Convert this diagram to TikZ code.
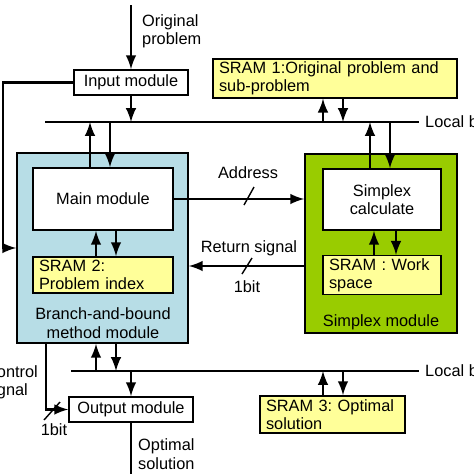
\documentclass[tikz,border=0pt]{standalone}
\usepackage{fontspec}
\setmainfont{Liberation Sans}
\usetikzlibrary{arrows,calc}
\tikzset{>=latex}
\definecolor{bnbblue}{RGB}{183,221,230}
\definecolor{simgreen}{RGB}{153,204,0}
\definecolor{sramyellow}{RGB}{255,255,153}
\tikzstyle{unit}=[rectangle,draw=black,line width=0.9pt]
\tikzstyle{module}=[rectangle,draw=black,fill=white,line width=0.9pt,inner sep=0.5mm]
\tikzstyle{sram}=[rectangle,draw=black,fill=sramyellow,line width=0.9pt,align=left,inner xsep=0.12cm,inner ysep=0.5mm,execute at begin node={\hyphenpenalty=10000}]
\tikzstyle{bus}=[line width=0.8pt]
\tikzstyle{sig}=[->,line width=1.7pt]
\tikzstyle{bitmark}=[line width=0.8pt]

\begin{document}
\frenchspacing
\begin{tikzpicture}[x=0.02cm,y=-0.02cm,font=\fontsize{9.3}{10.5}\selectfont]
	\useasboundingbox (0,0) rectangle (474,474);
	\clip (0,0) rectangle (474,474);
	
	% the two big units
	\node[unit,fill=bnbblue,minimum width=3.42cm,minimum height=3.8cm] (bnb) at (102.5,248) {};
	\node[unit,fill=simgreen,minimum width=3.04cm,minimum height=3.58cm] (simplex) at (381,243.5) {};
	
	\node[module,minimum width=2.28cm,minimum height=0.5cm] (input) at (131,82.5) {Input module};
	\node[module,minimum width=2.8cm,minimum height=1.24cm] (main) at (103,199) {Main module};
	\node[module,minimum width=2.36cm,minimum height=1.22cm,align=center] (calc) at (382,199.5) {Simplex\\calculate};
	\node[module,minimum width=2.48cm,minimum height=0.5cm] (output) at (131,409.5) {Output module};
	
	\node[sram,text width=4.64cm,minimum height=0.7cm] (sram1) at (335,78.5) {SRAM 1:Original problem and\\sub-problem};
	\node[sram,text width=2.56cm,minimum height=0.72cm] (sram2) at (103,275) {SRAM 2:\\Problem index};
	\node[sram,text width=2.12cm,minimum height=0.72cm] (work) at (382,275) {SRAM : Work\\space};
	\node[sram,text width=2.66cm,minimum height=0.74cm] (sram3) at (332.5,414.5) {SRAM 3: Optimal\\solution};
	
	\node[align=center] (bnblab) at (103,323) {Branch-and-bound\\method module};
	\node (simlab) at (381,322) {Simplex module};
	\node[anchor=west,align=left] (origlab) at (136,31) {Original\\problem};
	\node[anchor=west,align=left] (optlab) at (132,454) {Optimal\\solution};
	\node[anchor=east,align=left] (ctrllab) at (44,382) {Control\\signal};
	\node (addrlab) at (248,173) {Address};
	\node (retlab) at (249,248) {Return signal};
	\node (bitlab1) at (247,287) {1bit};
	\node (bitlab2) at (54,430) {1bit};
	
	% local buses
	\node[anchor=west] (buslab1) at (419,122) {Local bus};
	\node[anchor=west] (buslab2) at (419,371) {Local bus};
	\coordinate (bus1w) at (45,122);
	\coordinate (bus2w) at (71,371);
	\draw[bus] (bus1w) -- (buslab1.west);
	\draw[bus] (bus2w) -- (buslab2.west);
	
	\coordinate (orig) at (131,5);
	\coordinate (sol) at (131,480);
	\coordinate (lft) at (3,200);
	\coordinate (ret) at (0,266);
	
	\draw[sig] (orig) -- (input);
	\draw[sig] (input.west) -| (lft) |- (bnb.west);
	\draw[sig] (input.south) -- (input.south |- bus1w);
	
	\draw[sig] ([xshift=-12*0.02cm]sram1.south |- bus1w) -- ([xshift=-12*0.02cm]sram1.south);
	\draw[sig] ([xshift=8*0.02cm]sram1.south) -- ([xshift=8*0.02cm]sram1.south |- bus1w);
	\draw[sig] ([xshift=-13*0.02cm]main.north) -- ([xshift=-13*0.02cm]main.north |- bus1w);
	\draw[sig] ([xshift=7*0.02cm]main.north |- bus1w) -- ([xshift=7*0.02cm]main.north);
	\draw[sig] ([xshift=-12*0.02cm]calc.north) -- ([xshift=-12*0.02cm]calc.north |- bus1w);
	\draw[sig] ([xshift=8*0.02cm]calc.north |- bus1w) -- ([xshift=8*0.02cm]calc.north);
	
	\draw[sig] ([xshift=-7*0.02cm]sram2.north) -- ([xshift=-7*0.02cm]main.south);
	\draw[sig] ([xshift=13*0.02cm]main.south) -- ([xshift=13*0.02cm]sram2.north);
	\draw[sig] ([xshift=-8*0.02cm]work.north) -- ([xshift=-8*0.02cm]calc.south);
	\draw[sig] ([xshift=14*0.02cm]calc.south) -- ([xshift=14*0.02cm]work.north);
	
	\draw[sig] (main.east) -- (main.east -| simplex.west);
	\draw[sig] (simplex.west |- ret) -- (bnb.east |- ret);
	
	\draw[sig] ([xshift=-6.5*0.02cm]bnb.south |- bus2w) -- ([xshift=-6.5*0.02cm]bnb.south);
	\draw[sig] ([xshift=13.5*0.02cm]bnb.south) -- ([xshift=13.5*0.02cm]bnb.south |- bus2w);
	\draw[sig] (output.north |- bus2w) -- (output.north);
	\draw[sig] ([xshift=-9.5*0.02cm]sram3.north) -- ([xshift=-9.5*0.02cm]sram3.north |- bus2w);
	\draw[sig] ([xshift=10.5*0.02cm]sram3.north |- bus2w) -- ([xshift=10.5*0.02cm]sram3.north);
	
	\draw[sig] ([xshift=-56.5*0.02cm]bnb.south) |- (output.west);
	\draw[line width=1.7pt] (output.south) -- (sol);
	
	% bit width marks
	\coordinate (addrmark) at (249,196);
	\coordinate (retmark) at (247,266);
	\coordinate (ctrlmark) at (52,411);
	\draw[bitmark] ($(addrmark)+(-5,9)$) -- ($(addrmark)+(5,-9)$);
	\draw[bitmark] ($(retmark)+(-5,8)$) -- ($(retmark)+(5,-8)$);
	\draw[bitmark] ($(ctrlmark)+(-8,9)$) -- ($(ctrlmark)+(8,-9)$);
\end{tikzpicture}
\end{document}
